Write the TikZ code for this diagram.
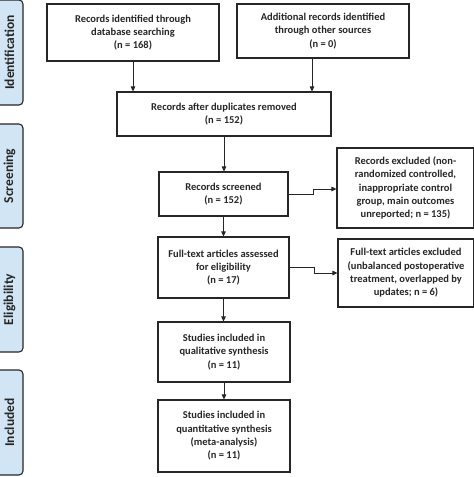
\documentclass[tikz,border=0pt]{standalone}
\usepackage{fontspec}
\setmainfont{Carlito}
\usetikzlibrary{arrows.meta,calc}
\definecolor{sidefill}{HTML}{D2E5F5}
\definecolor{ink}{HTML}{262626}
\begin{document}
\begin{tikzpicture}[x=1pt,y=1pt,
  box/.style={draw=ink,line width=1.1pt,align=center,font=\fontsize{10.5}{13.3}\selectfont\bfseries,text=ink,inner sep=2pt},
  side/.style={draw=ink,line width=1.1pt,fill=sidefill,rounded corners=4pt},
  sidetext/.style={rotate=90,font=\fontsize{13.5}{16}\selectfont\bfseries,text=ink},
  arr/.style={draw=ink,line width=0.9pt,-{Triangle[length=5pt,width=4.5pt]}}]
\useasboundingbox (0,0) rectangle (474,-477);
% side labels
\draw[side] (-6,0) rectangle (23,-105);
\node[sidetext] (s1) at (9.5,-52.5) {Identification};
\draw[side] (-6,-124) rectangle (23,-228);
\node[sidetext] (s2) at (9.5,-176) {Screening};
\draw[side] (-6,-247) rectangle (23,-352);
\node[sidetext] (s3) at (9.5,-299.5) {Eligibility};
\draw[side] (-6,-370) rectangle (23,-475);
\node[sidetext] (s4) at (9.5,-422.5) {Included};
% boxes
\node[box,minimum width=172,minimum height=57] (b1) at (133,-32.5) {Records identified through\\database searching\\(n = 168)};
\node[box,minimum width=172,minimum height=54] (b2) at (323,-31) {Additional records identified\\through other sources\\(n = 0)};
\node[box,minimum width=214,minimum height=44] (b3) at (224,-114) {Records after duplicates removed\\(n = 152)};
\node[box,minimum width=129,minimum height=44] (b4) at (223.5,-194) {Records screened\\(n = 152)};
\node[box,minimum width=137,minimum height=80] (e1) at (405.5,-188) {Records excluded (non-\\randomized controlled,\\inappropriate control\\group, main outcomes\\unreported; n = 135)};
\node[box,minimum width=131,minimum height=61] (b5) at (223.5,-267.5) {Full-text articles assessed\\for eligibility\\(n = 17)};
\node[box,minimum width=136,minimum height=68] (e2) at (406,-273) {Full-text articles excluded\\(unbalanced postoperative\\treatment, overlapped by\\updates; n = 6)};
\node[box,minimum width=132,minimum height=60] (b6) at (224,-352) {Studies included in\\qualitative synthesis\\(n = 11)};
\node[box,minimum width=132,minimum height=72] (b7) at (224,-436) {Studies included in\\quantitative synthesis\\(meta-analysis)\\(n = 11)};
% connectors
\draw[arr] (b1.south) -- (b1.south |- b3.north);
\coordinate (b2a) at ([xshift=-11pt]b2.south);
\draw[arr] (b2a) -- (b2a |- b3.north);
\draw[arr] (b3.south) -- (b3.south |- b4.north);
\draw[arr] (b4.east) -- (313,-194) -- (313,-189) -- (e1.west |- 0,-189);
\draw[arr] (b4.south) -- (b4.south |- b5.north);
\draw[arr] (b5.east) -- (314,-267.5) -- (314,-273) -- (e2.west);
\draw[arr] (b5.south) -- (b5.south |- b6.north);
\draw[arr] (b6.south) -- (b6.south |- b7.north);
\end{tikzpicture}
\end{document}
